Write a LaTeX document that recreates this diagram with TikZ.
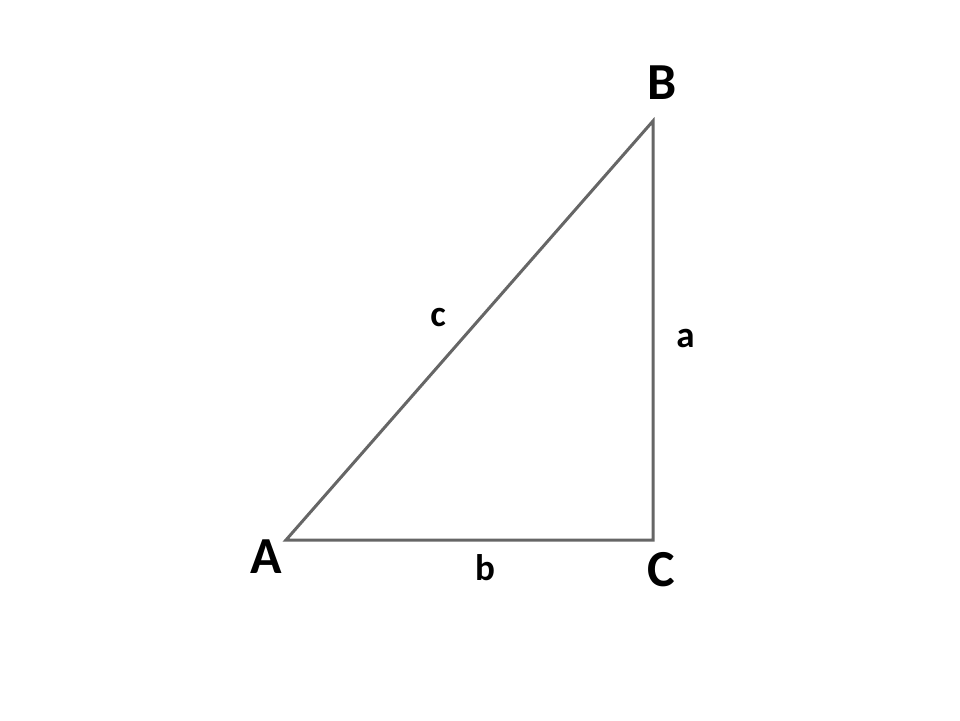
\documentclass[tikz,border=0pt]{standalone}
\usepackage{fontspec}
\setmainfont{Carlito}
\definecolor{edgegray}{HTML}{666666}
\tikzset{
  caplabel/.style={font=\fontsize{52}{60}\selectfont\bfseries, inner sep=0pt, anchor=base},
  sidelabel/.style={font=\fontsize{37}{44}\selectfont\bfseries, inner sep=0pt, anchor=base},
  edge/.style={draw=edgegray, line width=3pt, line join=miter}
}
\begin{document}
\begin{tikzpicture}[x=1pt,y=-1pt]
\useasboundingbox (0,0) rectangle (960,720);
\coordinate (A) at (286,540);
\coordinate (B) at (653,121);
\coordinate (C) at (653,540);
\draw[edge] (A) -- (B) -- (C) -- cycle;
\node[caplabel] (lA) at (266,573) {A};
\node[caplabel] (lB) at (662,99) {B};
\node[caplabel] (lC) at (661,586) {C};
\node[sidelabel] (la) at (685.5,347) {a};
\node[sidelabel] (lb) at (485,580) {b};
\node[sidelabel] (lc) at (438,326) {c};
\end{tikzpicture}
\end{document}
